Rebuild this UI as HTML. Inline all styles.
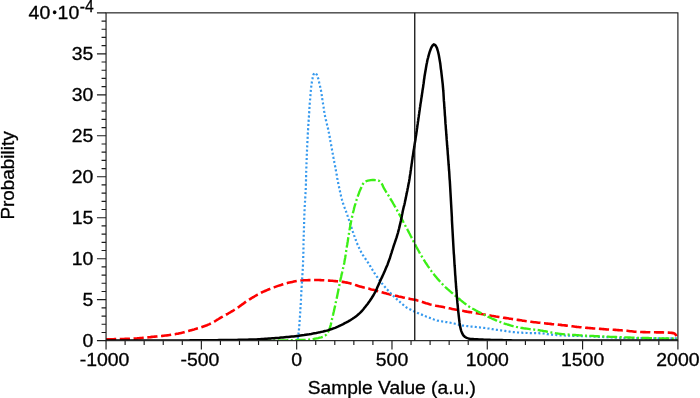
<!DOCTYPE html>
<html><head><meta charset="utf-8"><title>Probability vs Sample Value</title>
<style>html,body{margin:0;padding:0;background:#fff;overflow:hidden}body{width:700px;height:398px;position:relative}</style></head>
<body>
<svg width="700" height="398" viewBox="0 0 700 398" style="position:absolute;left:0;top:0">
<rect width="700" height="398" fill="#fff"/>
<clipPath id="pc"><rect x="106.05" y="12.85" width="571.85" height="327.34999999999997"/></clipPath>
<g fill="none" stroke-linejoin="round" clip-path="url(#pc)">
<path d="M106.0 339.2 L107.5 339.2 L109.0 339.2 L110.5 339.2 L111.9 339.2 L113.4 339.2 L114.9 339.1 L116.4 339.1 L117.9 339.1 L119.4 339.1 L120.8 339.0 L122.3 339.0 L123.8 339.0 L125.3 338.9 L126.8 338.9 L128.3 338.9 L129.7 338.8 L131.2 338.7 L132.7 338.7 L134.2 338.6 L135.7 338.5 L137.1 338.4 L138.6 338.2 L140.1 338.1 L141.6 338.0 L143.1 337.8 L144.5 337.7 L146.0 337.5 L147.5 337.4 L149.0 337.2 L150.4 337.1 L151.9 336.9 L153.4 336.8 L154.9 336.6 L156.3 336.5 L157.8 336.3 L159.3 336.2 L160.8 336.0 L162.3 335.9 L163.7 335.7 L165.2 335.5 L166.7 335.4 L168.2 335.2 L169.6 335.0 L171.1 334.8 L172.6 334.5 L174.0 334.3 L175.5 334.1 L176.9 333.8 L178.4 333.6 L179.8 333.2 L181.3 332.9 L182.7 332.6 L184.2 332.2 L185.6 331.8 L187.0 331.4 L188.5 331.0 L189.9 330.6 L191.3 330.2 L192.8 329.8 L194.2 329.4 L195.6 328.9 L197.0 328.5 L198.5 328.1 L199.9 327.6 L201.3 327.2 L202.7 326.7 L204.1 326.2 L205.5 325.7 L206.9 325.2 L208.3 324.6 L209.6 324.1 L210.9 323.4 L212.2 322.7 L213.5 322.0 L214.8 321.3 L216.1 320.5 L217.4 319.7 L218.6 319.0 L219.9 318.2 L221.2 317.4 L222.5 316.7 L223.8 315.9 L225.1 315.2 L226.4 314.5 L227.7 313.8 L229.0 313.0 L230.2 312.3 L231.5 311.5 L232.8 310.8 L234.1 310.0 L235.3 309.2 L236.6 308.4 L237.8 307.6 L239.0 306.8 L240.2 305.9 L241.4 305.0 L242.6 304.1 L243.8 303.3 L245.0 302.4 L246.2 301.5 L247.5 300.7 L248.7 299.9 L250.0 299.1 L251.2 298.3 L252.5 297.5 L253.8 296.8 L255.1 296.0 L256.3 295.3 L257.6 294.6 L259.0 293.9 L260.3 293.2 L261.6 292.5 L262.9 291.9 L264.3 291.3 L265.6 290.7 L267.0 290.1 L268.4 289.5 L269.7 289.0 L271.1 288.4 L272.5 287.9 L273.9 287.4 L275.3 286.9 L276.7 286.4 L278.1 285.9 L279.5 285.4 L280.9 285.0 L282.3 284.5 L283.8 284.0 L285.2 283.6 L286.6 283.2 L288.1 282.8 L289.5 282.5 L290.9 282.2 L292.4 281.9 L293.8 281.6 L295.3 281.3 L296.8 281.0 L298.2 280.8 L299.7 280.6 L301.2 280.5 L302.7 280.4 L304.1 280.3 L305.6 280.2 L307.1 280.2 L308.6 280.1 L310.1 280.1 L311.6 280.1 L313.0 280.0 L314.5 280.0 L316.0 280.0 L317.5 280.0 L319.0 280.0 L320.5 280.1 L321.9 280.2 L323.4 280.2 L324.9 280.3 L326.4 280.4 L327.9 280.5 L329.4 280.6 L330.8 280.7 L332.3 280.8 L333.8 281.0 L335.3 281.1 L336.8 281.2 L338.2 281.4 L339.7 281.6 L341.2 281.7 L342.7 281.9 L344.1 282.1 L345.6 282.4 L347.0 282.6 L348.5 282.9 L349.9 283.3 L351.3 283.7 L352.8 284.1 L354.2 284.6 L355.6 285.1 L357.0 285.5 L358.4 286.0 L359.8 286.4 L361.3 286.8 L362.7 287.2 L364.1 287.6 L365.6 287.9 L367.0 288.3 L368.5 288.6 L369.9 289.0 L371.3 289.4 L372.8 289.7 L374.2 290.1 L375.7 290.5 L377.1 290.9 L378.5 291.3 L379.9 291.7 L381.4 292.1 L382.8 292.5 L384.2 292.9 L385.7 293.3 L387.1 293.7 L388.5 294.0 L390.0 294.4 L391.4 294.8 L392.8 295.1 L394.3 295.5 L395.7 295.8 L397.2 296.1 L398.6 296.5 L400.1 296.8 L401.5 297.1 L403.0 297.4 L404.4 297.7 L405.9 298.1 L407.3 298.4 L408.8 298.6 L410.2 298.9 L411.7 299.2 L413.2 299.5 L414.6 299.8 L416.1 300.1 L417.5 300.5 L418.9 300.8 L420.3 301.3 L421.8 301.7 L423.2 302.2 L424.6 302.7 L426.0 303.2 L427.4 303.6 L428.8 304.0 L430.3 304.4 L431.7 304.7 L433.1 305.0 L434.6 305.3 L436.0 305.7 L437.5 306.0 L439.0 306.3 L440.4 306.5 L441.9 306.8 L443.3 307.1 L444.8 307.4 L446.2 307.7 L447.7 308.0 L449.1 308.3 L450.6 308.6 L452.0 308.9 L453.5 309.2 L455.0 309.5 L456.4 309.8 L457.9 310.0 L459.3 310.3 L460.8 310.6 L462.3 310.8 L463.7 311.1 L465.2 311.4 L466.6 311.6 L468.1 311.9 L469.6 312.1 L471.0 312.3 L472.5 312.6 L474.0 312.8 L475.4 313.1 L476.9 313.3 L478.3 313.5 L479.8 313.8 L481.3 314.0 L482.7 314.3 L484.2 314.5 L485.7 314.8 L487.1 315.0 L488.6 315.3 L490.1 315.5 L491.5 315.8 L493.0 316.0 L494.4 316.2 L495.9 316.5 L497.4 316.7 L498.8 317.0 L500.3 317.2 L501.8 317.4 L503.2 317.7 L504.7 317.9 L506.2 318.1 L507.6 318.3 L509.1 318.6 L510.6 318.8 L512.0 319.0 L513.5 319.2 L515.0 319.5 L516.4 319.7 L517.9 319.9 L519.4 320.1 L520.8 320.3 L522.3 320.6 L523.8 320.8 L525.2 321.0 L526.7 321.2 L528.2 321.4 L529.6 321.6 L531.1 321.8 L532.6 322.0 L534.1 322.2 L535.5 322.3 L537.0 322.5 L538.5 322.7 L540.0 322.8 L541.4 323.0 L542.9 323.2 L544.4 323.3 L545.9 323.5 L547.3 323.6 L548.8 323.8 L550.3 323.9 L551.8 324.1 L553.2 324.2 L554.7 324.3 L556.2 324.5 L557.7 324.6 L559.2 324.8 L560.6 324.9 L562.1 325.1 L563.6 325.2 L565.0 325.4 L566.5 325.6 L568.0 325.8 L569.5 325.9 L570.9 326.1 L572.4 326.3 L573.9 326.5 L575.4 326.7 L576.8 326.9 L578.3 327.0 L579.8 327.2 L581.3 327.3 L582.7 327.5 L584.2 327.6 L585.7 327.8 L587.2 327.9 L588.6 328.0 L590.1 328.1 L591.6 328.2 L593.1 328.4 L594.6 328.5 L596.0 328.6 L597.5 328.7 L599.0 328.8 L600.5 328.9 L602.0 329.0 L603.4 329.1 L604.9 329.2 L606.4 329.4 L607.9 329.5 L609.4 329.6 L610.8 329.7 L612.3 329.7 L613.8 329.8 L615.3 329.9 L616.8 330.0 L618.2 330.1 L619.7 330.2 L621.2 330.3 L622.7 330.5 L624.2 330.6 L625.6 330.7 L627.1 330.8 L628.6 331.0 L630.1 331.2 L631.5 331.3 L633.0 331.5 L634.5 331.7 L636.0 331.8 L637.5 331.9 L638.9 331.9 L640.4 332.0 L641.9 332.0 L643.4 332.1 L644.9 332.1 L646.3 332.2 L647.8 332.2 L649.3 332.2 L650.8 332.3 L652.3 332.3 L653.8 332.3 L655.3 332.3 L656.7 332.4 L658.2 332.4 L659.7 332.4 L661.2 332.4 L662.7 332.4 L664.2 332.5 L665.6 332.5 L667.1 332.5 L668.6 332.6 L670.1 332.7 L671.7 332.9 L673.1 333.1 L674.4 333.5 L675.5 334.5 L676.5 335.8 L677.2 337.0 L677.6 338.5" stroke="#fd0000" stroke-width="2.6" stroke-dasharray="10.2 3.6"/>
<path d="M297.0 340.6 L297.3 339.8 L297.6 338.9 L297.8 338.1 L298.0 337.2 L298.1 336.3 L298.3 335.4 L298.4 334.5 L298.5 333.7 L298.7 332.8 L298.8 331.9 L298.9 331.0 L298.9 330.1 L299.0 329.2 L299.1 328.3 L299.2 327.5 L299.3 326.6 L299.3 325.7 L299.4 324.8 L299.5 323.9 L299.5 323.0 L299.6 322.1 L299.6 321.2 L299.7 320.3 L299.8 319.4 L299.8 318.6 L299.9 317.7 L299.9 316.8 L300.0 315.9 L300.1 315.0 L300.1 314.1 L300.2 313.2 L300.2 312.3 L300.3 311.4 L300.3 310.5 L300.4 309.7 L300.4 308.8 L300.5 307.9 L300.6 307.0 L300.6 306.1 L300.7 305.2 L300.7 304.3 L300.8 303.4 L300.8 302.5 L300.9 301.6 L300.9 300.8 L301.0 299.9 L301.0 299.0 L301.0 298.1 L301.1 297.2 L301.1 296.3 L301.2 295.4 L301.2 294.5 L301.3 293.6 L301.3 292.7 L301.4 291.8 L301.4 291.0 L301.5 290.1 L301.5 289.2 L301.6 288.3 L301.6 287.4 L301.7 286.5 L301.7 285.6 L301.8 284.7 L301.8 283.8 L301.9 282.9 L302.0 282.1 L302.0 281.2 L302.1 280.3 L302.1 279.4 L302.2 278.5 L302.2 277.6 L302.3 276.7 L302.4 275.8 L302.4 274.9 L302.5 274.0 L302.5 273.2 L302.6 272.3 L302.6 271.4 L302.7 270.5 L302.7 269.6 L302.8 268.7 L302.8 267.8 L302.9 266.9 L302.9 266.0 L303.0 265.1 L303.0 264.3 L303.0 263.4 L303.1 262.5 L303.1 261.6 L303.1 260.7 L303.2 259.8 L303.2 258.9 L303.2 258.0 L303.2 257.1 L303.3 256.2 L303.3 255.3 L303.3 254.5 L303.3 253.6 L303.4 252.7 L303.4 251.8 L303.4 250.9 L303.4 250.0 L303.4 249.1 L303.5 248.2 L303.5 247.3 L303.5 246.4 L303.5 245.5 L303.5 244.6 L303.5 243.8 L303.6 242.9 L303.6 242.0 L303.6 241.1 L303.6 240.2 L303.6 239.3 L303.7 238.4 L303.7 237.5 L303.7 236.6 L303.7 235.7 L303.8 234.8 L303.8 234.0 L303.8 233.1 L303.8 232.2 L303.9 231.3 L303.9 230.4 L303.9 229.5 L303.9 228.6 L304.0 227.7 L304.0 226.8 L304.0 225.9 L304.0 225.0 L304.1 224.1 L304.1 223.3 L304.1 222.4 L304.1 221.5 L304.2 220.6 L304.2 219.7 L304.2 218.8 L304.3 217.9 L304.3 217.0 L304.3 216.1 L304.3 215.2 L304.4 214.3 L304.4 213.5 L304.4 212.6 L304.5 211.7 L304.5 210.8 L304.6 209.9 L304.6 209.0 L304.6 208.1 L304.7 207.2 L304.7 206.3 L304.8 205.4 L304.8 204.5 L304.9 203.7 L304.9 202.8 L305.0 201.9 L305.1 201.0 L305.1 200.1 L305.2 199.2 L305.2 198.3 L305.3 197.4 L305.3 196.5 L305.4 195.6 L305.4 194.8 L305.5 193.9 L305.5 193.0 L305.6 192.1 L305.6 191.2 L305.7 190.3 L305.7 189.4 L305.8 188.5 L305.8 187.6 L305.8 186.7 L305.9 185.9 L305.9 185.0 L305.9 184.1 L305.9 183.2 L306.0 182.3 L306.0 181.4 L306.0 180.5 L306.0 179.6 L306.0 178.7 L306.1 177.8 L306.1 176.9 L306.1 176.0 L306.1 175.2 L306.1 174.3 L306.2 173.4 L306.2 172.5 L306.2 171.6 L306.3 170.7 L306.3 169.8 L306.3 168.9 L306.3 168.0 L306.4 167.1 L306.4 166.2 L306.4 165.4 L306.5 164.5 L306.5 163.6 L306.5 162.7 L306.6 161.8 L306.6 160.9 L306.6 160.0 L306.7 159.1 L306.7 158.2 L306.7 157.3 L306.8 156.4 L306.8 155.6 L306.8 154.7 L306.9 153.8 L306.9 152.9 L306.9 152.0 L307.0 151.1 L307.0 150.2 L307.1 149.3 L307.1 148.4 L307.1 147.5 L307.2 146.6 L307.2 145.8 L307.3 144.9 L307.3 144.0 L307.3 143.1 L307.4 142.2 L307.4 141.3 L307.5 140.4 L307.5 139.5 L307.6 138.6 L307.6 137.7 L307.7 136.8 L307.7 136.0 L307.7 135.1 L307.8 134.2 L307.8 133.3 L307.9 132.4 L307.9 131.5 L308.0 130.6 L308.1 129.7 L308.1 128.8 L308.2 127.9 L308.2 127.1 L308.3 126.2 L308.3 125.3 L308.4 124.4 L308.5 123.5 L308.5 122.6 L308.6 121.7 L308.6 120.8 L308.7 119.9 L308.8 119.1 L308.8 118.2 L308.9 117.3 L308.9 116.4 L309.0 115.5 L309.1 114.6 L309.1 113.7 L309.2 112.8 L309.2 111.9 L309.3 111.0 L309.3 110.2 L309.4 109.3 L309.4 108.4 L309.5 107.5 L309.6 106.6 L309.6 105.7 L309.7 104.8 L309.7 103.9 L309.8 103.0 L309.9 102.1 L309.9 101.3 L310.0 100.4 L310.1 99.5 L310.2 98.6 L310.2 97.7 L310.3 96.8 L310.4 95.9 L310.5 95.0 L310.5 94.2 L310.6 93.3 L310.7 92.4 L310.8 91.5 L310.8 90.6 L310.9 89.7 L311.0 88.8 L311.1 87.9 L311.2 87.0 L311.3 86.2 L311.4 85.3 L311.5 84.4 L311.7 83.5 L311.8 82.6 L311.9 81.7 L312.1 80.9 L312.2 80.0 L312.4 79.1 L312.6 78.2 L312.7 77.3 L312.9 76.4 L313.2 75.6 L313.4 74.8 L313.9 73.9 L314.5 73.1 L315.2 72.8 L315.8 73.3 L316.4 74.1 L316.9 74.9 L317.2 75.7 L317.6 76.5 L317.8 77.4 L318.1 78.2 L318.4 79.1 L318.6 80.0 L318.8 80.8 L319.0 81.7 L319.2 82.6 L319.4 83.4 L319.6 84.3 L319.8 85.2 L320.0 86.0 L320.2 86.9 L320.4 87.8 L320.6 88.6 L320.8 89.5 L321.0 90.4 L321.1 91.3 L321.3 92.1 L321.4 93.0 L321.6 93.9 L321.7 94.8 L321.8 95.7 L321.9 96.6 L322.1 97.4 L322.2 98.3 L322.3 99.2 L322.5 100.1 L322.6 101.0 L322.7 101.8 L322.9 102.7 L323.0 103.6 L323.1 104.5 L323.3 105.4 L323.4 106.2 L323.6 107.1 L323.7 108.0 L323.8 108.9 L324.0 109.8 L324.1 110.7 L324.2 111.5 L324.4 112.4 L324.5 113.3 L324.7 114.2 L324.8 115.1 L325.0 115.9 L325.2 116.8 L325.4 117.7 L325.5 118.5 L325.7 119.4 L326.0 120.3 L326.2 121.1 L326.4 122.0 L326.6 122.9 L326.8 123.7 L327.0 124.6 L327.2 125.5 L327.4 126.3 L327.7 127.2 L327.9 128.1 L328.1 129.0 L328.2 129.8 L328.4 130.7 L328.6 131.6 L328.8 132.4 L329.0 133.3 L329.1 134.2 L329.3 135.1 L329.5 135.9 L329.6 136.8 L329.8 137.7 L330.0 138.6 L330.1 139.4 L330.3 140.3 L330.4 141.2 L330.6 142.1 L330.8 143.0 L330.9 143.8 L331.1 144.7 L331.2 145.6 L331.4 146.5 L331.6 147.3 L331.7 148.2 L331.9 149.1 L332.0 150.0 L332.2 150.8 L332.4 151.7 L332.5 152.6 L332.7 153.5 L332.9 154.4 L333.0 155.2 L333.2 156.1 L333.4 157.0 L333.5 157.9 L333.7 158.7 L333.9 159.6 L334.0 160.5 L334.2 161.4 L334.3 162.2 L334.5 163.1 L334.7 164.0 L334.8 164.9 L335.0 165.7 L335.2 166.6 L335.3 167.5 L335.5 168.4 L335.7 169.3 L335.8 170.1 L336.0 171.0 L336.1 171.9 L336.3 172.8 L336.5 173.6 L336.6 174.5 L336.8 175.4 L336.9 176.3 L337.1 177.2 L337.2 178.0 L337.4 178.9 L337.6 179.8 L337.7 180.7 L337.9 181.5 L338.1 182.4 L338.2 183.3 L338.4 184.2 L338.6 185.0 L338.8 185.9 L339.0 186.8 L339.1 187.6 L339.3 188.5 L339.5 189.4 L339.7 190.3 L339.9 191.1 L340.1 192.0 L340.3 192.9 L340.5 193.7 L340.7 194.6 L340.9 195.5 L341.1 196.4 L341.3 197.2 L341.6 198.1 L341.8 198.9 L342.0 199.8 L342.3 200.7 L342.5 201.5 L342.8 202.4 L343.0 203.2 L343.3 204.0 L343.6 204.9 L343.9 205.7 L344.2 206.6 L344.5 207.4 L344.8 208.2 L345.2 209.1 L345.5 209.9 L345.8 210.8 L346.1 211.6 L346.4 212.4 L346.7 213.3 L347.0 214.1 L347.3 214.9 L347.6 215.8 L347.9 216.6 L348.2 217.5 L348.4 218.3 L348.7 219.2 L349.0 220.0 L349.3 220.9 L349.6 221.7 L349.8 222.6 L350.1 223.4 L350.4 224.3 L350.7 225.1 L350.9 226.0 L351.2 226.8 L351.5 227.6 L351.8 228.5 L352.1 229.3 L352.4 230.2 L352.6 231.0 L352.9 231.9 L353.2 232.7 L353.5 233.6 L353.8 234.4 L354.1 235.3 L354.4 236.1 L354.7 236.9 L355.0 237.8 L355.3 238.6 L355.6 239.5 L355.9 240.3 L356.2 241.1 L356.5 242.0 L356.8 242.8 L357.2 243.6 L357.5 244.4 L357.9 245.2 L358.2 246.1 L358.6 246.9 L359.0 247.7 L359.4 248.5 L359.8 249.3 L360.2 250.1 L360.6 250.9 L361.0 251.7 L361.4 252.5 L361.8 253.2 L362.3 254.0 L362.7 254.8 L363.2 255.5 L363.7 256.3 L364.2 257.0 L364.7 257.8 L365.2 258.5 L365.7 259.2 L366.2 260.0 L366.7 260.7 L367.2 261.4 L367.7 262.2 L368.2 262.9 L368.7 263.7 L369.1 264.4 L369.6 265.2 L370.1 266.0 L370.6 266.7 L371.0 267.5 L371.5 268.2 L372.0 269.0 L372.4 269.8 L372.9 270.5 L373.4 271.3 L373.9 272.0 L374.3 272.8 L374.8 273.5 L375.3 274.3 L375.8 275.0 L376.3 275.8 L376.8 276.5 L377.3 277.2 L377.8 278.0 L378.3 278.7 L378.8 279.4 L379.4 280.1 L379.9 280.8 L380.4 281.5 L381.0 282.2 L381.5 282.9 L382.1 283.6 L382.7 284.3 L383.2 285.0 L383.8 285.7 L384.4 286.4 L385.0 287.0 L385.6 287.7 L386.2 288.4 L386.8 289.1 L387.4 289.7 L388.0 290.4 L388.6 291.0 L389.2 291.7 L389.8 292.3 L390.4 293.0 L391.0 293.6 L391.6 294.2 L392.3 294.9 L392.9 295.5 L393.6 296.1 L394.2 296.7 L394.9 297.3 L395.5 298.0 L396.2 298.6 L396.8 299.2 L397.5 299.8 L398.1 300.4 L398.8 300.9 L399.5 301.5 L400.1 302.1 L400.8 302.7 L401.5 303.3 L402.1 303.9 L402.8 304.5 L403.5 305.1 L404.2 305.7 L404.8 306.3 L405.6 306.8 L406.3 307.3 L407.0 307.8 L407.8 308.2 L408.6 308.6 L409.4 309.0 L410.2 309.4 L411.0 309.8 L411.8 310.2 L412.6 310.6 L413.4 311.0 L414.2 311.4 L415.0 311.8 L415.8 312.1 L416.6 312.5 L417.5 312.9 L418.3 313.2 L419.1 313.6 L419.9 313.9 L420.7 314.3 L421.6 314.6 L422.4 314.9 L423.2 315.3 L424.0 315.6 L424.9 315.9 L425.7 316.3 L426.5 316.6 L427.4 316.9 L428.2 317.2 L429.0 317.5 L429.9 317.9 L430.7 318.2 L431.5 318.5 L432.4 318.9 L433.2 319.2 L434.0 319.5 L434.9 319.8 L435.7 320.1 L436.6 320.3 L437.4 320.6 L438.3 320.7 L439.2 320.9 L440.0 321.1 L440.9 321.2 L441.8 321.3 L442.7 321.5 L443.6 321.6 L444.4 321.8 L445.3 321.9 L446.2 322.1 L447.1 322.2 L448.0 322.4 L448.8 322.5 L449.7 322.6 L450.6 322.8 L451.5 323.0 L452.4 323.1 L453.2 323.3 L454.1 323.5 L455.0 323.7 L455.8 323.9 L456.7 324.1 L457.6 324.4 L458.4 324.6 L459.3 324.9 L460.1 325.1 L461.0 325.3 L461.9 325.5 L462.8 325.6 L463.6 325.7 L464.5 325.8 L465.4 325.9 L466.3 326.0 L467.2 326.1 L468.1 326.2 L469.0 326.3 L469.8 326.4 L470.7 326.5 L471.6 326.6 L472.5 326.6 L473.4 326.7 L474.3 326.8 L475.2 326.9 L476.1 327.0 L476.9 327.1 L477.8 327.2 L478.7 327.3 L479.6 327.4 L480.5 327.5 L481.4 327.6 L482.3 327.7 L483.1 327.8 L484.0 327.9 L484.9 328.0 L485.8 328.1 L486.7 328.2 L487.6 328.4 L488.4 328.5 L489.3 328.6 L490.2 328.8 L491.1 328.9 L492.0 329.1 L492.8 329.2 L493.7 329.4 L494.6 329.5 L495.5 329.6 L496.4 329.8 L497.3 329.9 L498.1 330.0 L499.0 330.1 L499.9 330.2 L500.8 330.3 L501.7 330.5 L502.6 330.6 L503.4 330.7 L504.3 330.8 L505.2 330.9 L506.1 331.1 L507.0 331.2 L507.9 331.4 L508.7 331.5 L509.6 331.6 L510.5 331.8 L511.4 331.9 L512.3 332.0 L513.2 332.1 L514.0 332.2 L514.9 332.2 L515.8 332.3 L516.7 332.4 L517.6 332.5 L518.5 332.5 L519.4 332.6 L520.3 332.6 L521.2 332.7 L522.0 332.7 L522.9 332.8 L523.8 332.8 L524.7 332.9 L525.6 332.9 L526.5 333.0 L527.4 333.0 L528.3 333.1 L529.2 333.1 L530.1 333.1 L531.0 333.1 L531.8 333.2 L532.7 333.2 L533.6 333.2 L534.5 333.2 L535.4 333.2 L536.3 333.2 L537.2 333.2 L538.1 333.2 L539.0 333.2 L539.9 333.3 L540.8 333.3 L541.6 333.3 L542.5 333.4 L543.4 333.5 L544.3 333.6 L545.2 333.8 L546.1 333.9 L546.9 334.1 L547.8 334.2 L548.7 334.3 L549.6 334.5 L550.5 334.6 L551.4 334.7 L552.3 334.7 L553.1 334.8 L554.0 334.9 L554.9 335.0 L555.8 335.0 L556.7 335.1 L557.6 335.2 L558.5 335.2 L559.4 335.3 L560.3 335.3 L561.1 335.4 L562.0 335.4 L562.9 335.5 L563.8 335.5 L564.7 335.5 L565.6 335.6 L566.5 335.6 L567.4 335.6 L568.3 335.7 L569.2 335.7 L570.1 335.7 L570.9 335.7 L571.8 335.8 L572.7 335.8 L573.6 335.8 L574.5 335.8 L575.4 335.9 L576.3 335.9 L577.2 335.9 L578.1 335.9 L579.0 336.0 L579.9 336.0 L580.8 336.0 L581.6 336.1 L582.5 336.1 L583.4 336.1 L584.3 336.2 L585.2 336.2 L586.1 336.2 L587.0 336.3 L587.9 336.3 L588.8 336.4 L589.7 336.4 L590.6 336.4 L591.4 336.5 L592.3 336.5 L593.2 336.6 L594.1 336.6 L595.0 336.7 L595.9 336.7 L596.8 336.7 L597.7 336.8 L598.6 336.8 L599.5 336.9 L600.3 336.9 L601.2 337.0 L602.1 337.0 L603.0 337.0 L603.9 337.1 L604.8 337.1 L605.7 337.2 L606.6 337.2 L607.5 337.2 L608.4 337.3 L609.3 337.3 L610.1 337.4 L611.0 337.4 L611.9 337.5 L612.8 337.5 L613.7 337.6 L614.6 337.6 L615.5 337.7 L616.4 337.7 L617.3 337.7 L618.2 337.8 L619.1 337.8 L619.9 337.8 L620.8 337.9 L621.7 337.9 L622.6 337.9 L623.5 338.0 L624.4 338.0 L625.3 338.0 L626.2 338.0 L627.1 338.0 L628.0 338.0 L628.9 338.0 L629.7 338.1 L630.6 338.1 L631.5 338.1 L632.4 338.1 L633.3 338.1 L634.2 338.1 L635.1 338.1 L636.0 338.1 L636.9 338.1 L637.8 338.2 L638.7 338.2 L639.5 338.2 L640.4 338.2 L641.3 338.2 L642.2 338.2 L643.1 338.2 L644.0 338.2 L644.9 338.2 L645.8 338.2 L646.7 338.3 L647.6 338.3 L648.5 338.3 L649.4 338.3 L650.2 338.3 L651.1 338.3 L652.0 338.3 L652.9 338.3 L653.8 338.3 L654.7 338.3 L655.6 338.3 L656.5 338.3 L657.4 338.3 L658.3 338.3 L659.2 338.3 L660.1 338.4 L660.9 338.4 L661.8 338.4 L662.7 338.4 L663.6 338.4 L664.5 338.4 L665.4 338.4 L666.3 338.4 L667.2 338.4 L668.1 338.4 L669.0 338.4 L669.9 338.4 L670.8 338.4 L671.6 338.4 L672.5 338.4 L673.4 338.4 L674.3 338.4 L675.2 338.4 L676.1 338.4 L677.0 338.4" stroke="#3599ee" stroke-width="2.2" stroke-dasharray="2.05 2.22" stroke-dashoffset="2.44"/>
<path d="M262.0 340.6 L263.5 340.6 L265.0 340.6 L266.6 340.6 L268.1 340.5 L269.6 340.5 L271.1 340.5 L272.7 340.5 L274.2 340.5 L275.7 340.4 L277.2 340.4 L278.7 340.4 L280.3 340.4 L281.8 340.3 L283.3 340.3 L284.8 340.3 L286.4 340.3 L287.9 340.2 L289.4 340.2 L290.9 340.2 L292.4 340.2 L294.0 340.1 L295.5 340.1 L297.0 340.1 L298.5 340.0 L300.1 340.0 L301.6 340.0 L303.1 339.9 L304.6 339.9 L306.1 339.8 L307.7 339.7 L309.2 339.6 L310.7 339.4 L312.2 339.2 L313.7 339.0 L315.2 338.7 L316.7 338.4 L318.2 338.1 L319.7 337.7 L321.3 337.3 L322.8 336.8 L324.2 336.2 L325.3 335.5 L326.4 334.5 L327.3 333.3 L328.1 331.9 L328.8 330.5 L329.4 329.1 L329.9 327.7 L330.4 326.2 L330.8 324.8 L331.1 323.3 L331.5 321.8 L331.8 320.3 L332.1 318.8 L332.5 317.3 L332.8 315.8 L333.2 314.3 L333.5 312.8 L333.9 311.3 L334.2 309.8 L334.5 308.4 L334.9 306.9 L335.2 305.4 L335.5 303.9 L335.8 302.4 L336.1 300.9 L336.5 299.4 L336.8 297.9 L337.1 296.4 L337.4 295.0 L337.7 293.5 L338.0 292.0 L338.3 290.5 L338.6 289.0 L338.9 287.5 L339.2 286.0 L339.5 284.5 L339.8 283.0 L340.1 281.5 L340.4 280.0 L340.7 278.5 L341.1 277.1 L341.4 275.6 L341.7 274.1 L342.1 272.6 L342.4 271.1 L342.8 269.6 L343.1 268.1 L343.4 266.7 L343.8 265.2 L344.1 263.7 L344.4 262.2 L344.6 260.7 L344.9 259.2 L345.2 257.7 L345.4 256.2 L345.7 254.7 L345.9 253.2 L346.1 251.7 L346.3 250.2 L346.6 248.7 L346.8 247.2 L347.0 245.7 L347.3 244.2 L347.5 242.7 L347.8 241.2 L348.0 239.6 L348.2 238.1 L348.5 236.6 L348.7 235.1 L349.0 233.6 L349.2 232.1 L349.4 230.6 L349.7 229.1 L350.0 227.6 L350.2 226.1 L350.5 224.6 L350.8 223.1 L351.1 221.6 L351.4 220.1 L351.7 218.7 L352.0 217.2 L352.3 215.7 L352.7 214.2 L353.0 212.7 L353.4 211.2 L353.8 209.8 L354.1 208.3 L354.5 206.8 L354.9 205.3 L355.4 203.9 L355.8 202.4 L356.2 201.0 L356.7 199.5 L357.2 198.1 L357.7 196.6 L358.2 195.2 L358.7 193.8 L359.2 192.3 L359.8 190.9 L360.4 189.5 L361.0 188.1 L361.7 186.7 L362.3 185.3 L363.0 183.9 L363.9 182.6 L364.9 181.8 L366.4 181.1 L367.9 180.7 L369.4 180.4 L370.9 180.1 L372.4 180.0 L373.9 180.0 L375.5 180.1 L377.0 180.2 L378.4 180.5 L379.7 181.4 L380.8 182.6 L381.7 183.7 L382.5 185.0 L383.1 186.5 L383.8 187.9 L384.5 189.2 L385.3 190.5 L386.1 191.8 L386.9 193.1 L387.7 194.4 L388.6 195.7 L389.4 196.9 L390.1 198.3 L390.9 199.6 L391.7 200.9 L392.5 202.2 L393.2 203.5 L394.0 204.8 L394.7 206.1 L395.5 207.5 L396.2 208.8 L397.0 210.1 L397.7 211.5 L398.5 212.8 L399.2 214.1 L399.9 215.5 L400.7 216.8 L401.4 218.1 L402.1 219.5 L402.8 220.8 L403.5 222.2 L404.2 223.5 L404.9 224.9 L405.6 226.2 L406.3 227.6 L407.1 228.9 L407.8 230.3 L408.5 231.6 L409.2 233.0 L409.9 234.3 L410.6 235.7 L411.3 237.0 L412.0 238.4 L412.7 239.7 L413.4 241.1 L414.1 242.4 L414.8 243.8 L415.5 245.1 L416.2 246.5 L416.9 247.8 L417.6 249.2 L418.4 250.5 L419.1 251.8 L419.8 253.2 L420.6 254.5 L421.4 255.8 L422.2 257.1 L422.9 258.4 L423.7 259.7 L424.6 261.0 L425.4 262.3 L426.2 263.5 L427.1 264.8 L427.9 266.1 L428.8 267.4 L429.6 268.6 L430.5 269.8 L431.4 271.1 L432.3 272.3 L433.2 273.5 L434.2 274.7 L435.1 275.9 L436.1 277.0 L437.1 278.2 L438.1 279.4 L439.1 280.5 L440.1 281.6 L441.2 282.8 L442.2 283.9 L443.3 285.0 L444.3 286.0 L445.4 287.1 L446.5 288.1 L447.6 289.2 L448.8 290.2 L449.9 291.2 L451.1 292.2 L452.3 293.1 L453.4 294.1 L454.6 295.1 L455.8 296.1 L457.0 297.0 L458.1 298.0 L459.3 299.0 L460.5 300.0 L461.6 301.0 L462.8 301.9 L464.0 302.9 L465.2 303.8 L466.4 304.7 L467.7 305.6 L468.9 306.4 L470.2 307.2 L471.5 308.0 L472.8 308.8 L474.2 309.5 L475.5 310.3 L476.9 311.0 L478.2 311.7 L479.5 312.4 L480.9 313.1 L482.2 313.8 L483.6 314.5 L485.0 315.2 L486.3 315.9 L487.7 316.6 L489.1 317.2 L490.5 317.8 L491.8 318.5 L493.2 319.1 L494.6 319.7 L496.0 320.3 L497.4 320.9 L498.9 321.5 L500.3 322.0 L501.7 322.6 L503.1 323.1 L504.6 323.6 L506.0 324.0 L507.5 324.5 L508.9 324.9 L510.4 325.4 L511.9 325.8 L513.3 326.2 L514.8 326.5 L516.3 326.9 L517.8 327.2 L519.3 327.5 L520.8 327.8 L522.3 328.0 L523.8 328.3 L525.3 328.5 L526.8 328.7 L528.3 328.9 L529.8 329.1 L531.3 329.3 L532.8 329.4 L534.3 329.6 L535.9 329.8 L537.4 330.0 L538.9 330.2 L540.4 330.5 L541.9 330.7 L543.4 331.0 L544.9 331.2 L546.4 331.5 L547.9 331.8 L549.4 332.1 L550.9 332.4 L552.4 332.7 L553.9 332.9 L555.4 333.2 L556.9 333.4 L558.4 333.6 L559.9 333.8 L561.4 334.0 L562.9 334.1 L564.4 334.3 L565.9 334.4 L567.5 334.5 L569.0 334.6 L570.5 334.8 L572.0 334.9 L573.5 335.0 L575.1 335.0 L576.6 335.1 L578.1 335.2 L579.6 335.3 L581.1 335.4 L582.7 335.5 L584.2 335.6 L585.7 335.7 L587.2 335.7 L588.7 335.8 L590.3 335.9 L591.8 335.9 L593.3 336.0 L594.8 336.1 L596.3 336.2 L597.9 336.2 L599.4 336.3 L600.9 336.4 L602.4 336.4 L604.0 336.5 L605.5 336.6 L607.0 336.6 L608.5 336.7 L610.0 336.8 L611.6 336.8 L613.1 336.9 L614.6 337.0 L616.1 337.0 L617.6 337.1 L619.2 337.2 L620.7 337.2 L622.2 337.3 L623.7 337.3 L625.2 337.4 L626.8 337.4 L628.3 337.5 L629.8 337.5 L631.3 337.6 L632.9 337.6 L634.4 337.7 L635.9 337.7 L637.4 337.8 L638.9 337.8 L640.5 337.8 L642.0 337.9 L643.5 337.9 L645.0 338.0 L646.6 338.0 L648.1 338.0 L649.6 338.1 L651.1 338.1 L652.6 338.1 L654.2 338.2 L655.7 338.2 L657.2 338.2 L658.7 338.3 L660.3 338.3 L661.8 338.3 L663.3 338.4 L664.8 338.4 L666.3 338.4 L667.9 338.4 L669.4 338.5 L670.9 338.5 L672.4 338.5 L674.0 338.6 L675.5 338.6 L677.0 338.6" stroke="#3bef16" stroke-width="2.35" stroke-dasharray="10.4 2.5 2 2.5" stroke-dashoffset="1.5"/>
<path d="M100.0 340.6 L101.8 340.6 L103.6 340.6 L105.3 340.6 L107.1 340.6 L108.9 340.6 L110.7 340.6 L112.4 340.6 L114.2 340.6 L116.0 340.6 L117.8 340.6 L119.5 340.6 L121.3 340.6 L123.1 340.6 L124.9 340.6 L126.6 340.6 L128.4 340.6 L130.2 340.6 L132.0 340.6 L133.8 340.6 L135.5 340.6 L137.3 340.6 L139.1 340.5 L140.9 340.5 L142.6 340.5 L144.4 340.5 L146.2 340.5 L148.0 340.5 L149.7 340.5 L151.5 340.5 L153.3 340.5 L155.1 340.5 L156.8 340.5 L158.6 340.5 L160.4 340.5 L162.2 340.5 L163.9 340.5 L165.7 340.5 L167.5 340.5 L169.3 340.4 L171.1 340.4 L172.8 340.4 L174.6 340.4 L176.4 340.4 L178.2 340.4 L179.9 340.4 L181.7 340.4 L183.5 340.4 L185.3 340.4 L187.0 340.4 L188.8 340.4 L190.6 340.3 L192.4 340.3 L194.1 340.3 L195.9 340.3 L197.7 340.3 L199.5 340.3 L201.2 340.3 L203.0 340.3 L204.8 340.3 L206.6 340.3 L208.4 340.2 L210.1 340.2 L211.9 340.2 L213.7 340.2 L215.5 340.2 L217.2 340.2 L219.0 340.1 L220.8 340.1 L222.6 340.1 L224.3 340.1 L226.1 340.1 L227.9 340.0 L229.7 340.0 L231.5 340.0 L233.2 339.9 L235.0 339.9 L236.8 339.9 L238.6 339.8 L240.3 339.8 L242.1 339.8 L243.9 339.7 L245.7 339.7 L247.4 339.7 L249.2 339.6 L251.0 339.6 L252.8 339.5 L254.5 339.5 L256.3 339.4 L258.1 339.3 L259.9 339.2 L261.6 339.1 L263.4 339.0 L265.2 338.8 L266.9 338.7 L268.7 338.6 L270.5 338.5 L272.3 338.3 L274.0 338.2 L275.8 338.0 L277.6 337.9 L279.3 337.8 L281.1 337.6 L282.9 337.5 L284.7 337.3 L286.4 337.1 L288.2 337.0 L290.0 336.8 L291.7 336.6 L293.5 336.4 L295.3 336.2 L297.0 336.0 L298.8 335.8 L300.5 335.5 L302.3 335.3 L304.1 335.1 L305.8 334.8 L307.6 334.5 L309.3 334.3 L311.1 334.0 L312.8 333.6 L314.6 333.3 L316.3 333.0 L318.1 332.6 L319.8 332.3 L321.5 331.9 L323.3 331.5 L325.0 331.0 L326.7 330.6 L328.4 330.1 L330.1 329.5 L331.8 329.0 L333.5 328.4 L335.1 327.8 L336.8 327.1 L338.4 326.4 L340.0 325.6 L341.6 324.9 L343.2 324.1 L344.8 323.2 L346.4 322.4 L347.9 321.6 L349.5 320.7 L351.0 319.7 L352.5 318.8 L354.0 317.8 L355.5 316.7 L356.9 315.7 L358.2 314.5 L359.5 313.4 L360.8 312.1 L362.0 310.8 L363.2 309.5 L364.3 308.1 L365.4 306.7 L366.5 305.3 L367.6 303.9 L368.6 302.5 L369.7 301.0 L370.7 299.5 L371.7 298.0 L372.6 296.5 L373.6 295.0 L374.4 293.5 L375.3 291.9 L376.1 290.4 L376.8 288.7 L377.5 287.1 L378.2 285.5 L378.9 283.9 L379.7 282.2 L380.4 280.6 L381.1 279.0 L381.9 277.4 L382.6 275.7 L383.4 274.1 L384.1 272.5 L384.8 270.9 L385.5 269.3 L386.2 267.6 L386.9 266.0 L387.6 264.4 L388.2 262.7 L388.8 261.0 L389.4 259.3 L390.0 257.7 L390.5 256.0 L391.0 254.3 L391.6 252.6 L392.1 250.9 L392.7 249.2 L393.2 247.5 L393.7 245.8 L394.3 244.1 L394.9 242.4 L395.4 240.8 L396.0 239.1 L396.6 237.4 L397.1 235.7 L397.6 234.0 L398.1 232.3 L398.5 230.6 L399.0 228.8 L399.4 227.1 L399.8 225.4 L400.2 223.7 L400.6 221.9 L401.0 220.2 L401.3 218.5 L401.7 216.7 L402.0 215.0 L402.4 213.2 L402.7 211.5 L403.1 209.7 L403.5 208.0 L403.9 206.3 L404.4 204.6 L404.8 202.8 L405.1 201.1 L405.5 199.4 L405.9 197.6 L406.2 195.9 L406.6 194.1 L406.9 192.4 L407.3 190.7 L407.6 188.9 L408.0 187.2 L408.3 185.4 L408.6 183.7 L409.0 181.9 L409.3 180.2 L409.6 178.4 L409.8 176.7 L410.1 174.9 L410.4 173.2 L410.6 171.4 L410.9 169.7 L411.1 167.9 L411.4 166.1 L411.6 164.4 L411.9 162.6 L412.1 160.9 L412.4 159.1 L412.6 157.3 L412.9 155.6 L413.2 153.8 L413.4 152.1 L413.7 150.3 L414.0 148.6 L414.3 146.8 L414.5 145.1 L414.8 143.3 L415.1 141.5 L415.4 139.8 L415.6 138.0 L415.9 136.3 L416.2 134.5 L416.4 132.8 L416.7 131.0 L416.9 129.3 L417.2 127.5 L417.4 125.7 L417.7 124.0 L417.9 122.2 L418.2 120.5 L418.4 118.7 L418.7 116.9 L418.9 115.2 L419.2 113.4 L419.4 111.7 L419.7 109.9 L419.9 108.1 L420.2 106.4 L420.4 104.6 L420.7 102.9 L421.0 101.1 L421.2 99.4 L421.5 97.6 L421.8 95.8 L422.0 94.1 L422.3 92.3 L422.5 90.6 L422.8 88.8 L423.1 87.1 L423.3 85.3 L423.6 83.5 L423.8 81.8 L424.0 80.0 L424.3 78.3 L424.5 76.5 L424.8 74.7 L425.1 73.0 L425.4 71.2 L425.7 69.5 L426.0 67.7 L426.3 66.0 L426.6 64.2 L427.0 62.5 L427.3 60.8 L427.7 59.0 L428.2 57.3 L428.6 55.6 L429.1 53.9 L429.6 52.2 L430.2 50.5 L430.8 48.8 L431.5 47.2 L432.6 45.5 L433.8 44.3 L435.0 44.8 L436.2 46.5 L437.0 48.1 L437.5 49.8 L438.0 51.5 L438.4 53.3 L438.8 55.0 L439.1 56.8 L439.4 58.5 L439.7 60.3 L440.0 62.0 L440.3 63.8 L440.5 65.5 L440.7 67.3 L440.9 69.1 L441.2 70.8 L441.4 72.6 L441.6 74.3 L441.8 76.1 L442.0 77.9 L442.2 79.6 L442.4 81.4 L442.6 83.2 L442.8 84.9 L442.9 86.7 L443.1 88.5 L443.2 90.2 L443.4 92.0 L443.5 93.8 L443.6 95.6 L443.7 97.3 L443.8 99.1 L443.9 100.9 L444.1 102.7 L444.2 104.4 L444.3 106.2 L444.4 108.0 L444.6 109.7 L444.7 111.5 L444.8 113.3 L444.9 115.1 L445.1 116.8 L445.2 118.6 L445.3 120.4 L445.4 122.1 L445.5 123.9 L445.7 125.7 L445.8 127.5 L445.9 129.2 L446.1 131.0 L446.2 132.8 L446.3 134.5 L446.5 136.3 L446.6 138.1 L446.7 139.9 L446.9 141.6 L447.0 143.4 L447.1 145.2 L447.3 146.9 L447.4 148.7 L447.6 150.5 L447.7 152.3 L447.8 154.0 L448.0 155.8 L448.1 157.6 L448.2 159.3 L448.4 161.1 L448.5 162.9 L448.6 164.7 L448.8 166.4 L448.9 168.2 L449.0 170.0 L449.2 171.7 L449.3 173.5 L449.4 175.3 L449.5 177.1 L449.6 178.8 L449.8 180.6 L449.9 182.4 L450.0 184.1 L450.1 185.9 L450.2 187.7 L450.3 189.5 L450.4 191.2 L450.5 193.0 L450.6 194.8 L450.7 196.6 L450.8 198.3 L450.9 200.1 L451.0 201.9 L451.1 203.7 L451.2 205.4 L451.3 207.2 L451.4 209.0 L451.5 210.8 L451.6 212.5 L451.7 214.3 L451.8 216.1 L451.9 217.8 L451.9 219.6 L452.0 221.4 L452.1 223.2 L452.2 224.9 L452.3 226.7 L452.4 228.5 L452.5 230.3 L452.6 232.0 L452.7 233.8 L452.8 235.6 L452.9 237.4 L453.0 239.1 L453.1 240.9 L453.2 242.7 L453.3 244.5 L453.4 246.2 L453.5 248.0 L453.6 249.8 L453.7 251.5 L453.8 253.3 L454.0 255.1 L454.1 256.9 L454.2 258.6 L454.3 260.4 L454.4 262.2 L454.5 264.0 L454.6 265.7 L454.8 267.5 L454.9 269.3 L455.0 271.0 L455.1 272.8 L455.2 274.6 L455.4 276.4 L455.5 278.1 L455.6 279.9 L455.7 281.7 L455.9 283.4 L456.0 285.2 L456.1 287.0 L456.3 288.8 L456.4 290.5 L456.6 292.3 L456.7 294.1 L456.8 295.8 L457.0 297.6 L457.1 299.4 L457.3 301.2 L457.4 302.9 L457.6 304.7 L457.8 306.5 L457.9 308.2 L458.1 310.0 L458.3 311.8 L458.5 313.5 L458.7 315.3 L458.9 317.1 L459.1 318.9 L459.3 320.6 L459.5 322.4 L459.8 324.2 L460.0 325.9 L460.4 327.6 L460.8 329.4 L461.3 331.1 L462.0 332.9 L462.8 334.5 L463.7 335.8 L465.1 337.0 L466.7 337.9 L468.3 338.4 L470.0 338.7 L471.8 338.9 L473.6 339.1 L475.4 339.2 L477.2 339.3 L479.0 339.4 L480.7 339.5 L482.5 339.6 L484.3 339.7 L486.1 339.7 L487.8 339.8 L489.6 339.8 L491.4 339.9 L493.2 339.9 L494.9 340.0 L496.7 340.0 L498.5 340.0 L500.3 340.1 L502.0 340.1 L503.8 340.2 L505.6 340.2 L507.4 340.3 L509.1 340.3 L510.9 340.3 L512.7 340.4 L514.5 340.4 L516.3 340.4 L518.0 340.4 L519.8 340.5 L521.6 340.5 L523.4 340.5 L525.1 340.5 L526.9 340.5 L528.7 340.5 L530.5 340.5 L532.2 340.5 L534.0 340.5 L535.8 340.5 L537.6 340.5 L539.3 340.5 L541.1 340.5 L542.9 340.5 L544.7 340.5 L546.4 340.5 L548.2 340.5 L550.0 340.5 L551.8 340.5 L553.6 340.5 L555.3 340.5 L557.1 340.5 L558.9 340.5 L560.7 340.5 L562.4 340.5 L564.2 340.5 L566.0 340.6 L567.8 340.6 L569.5 340.6 L571.3 340.6 L573.1 340.6 L574.9 340.6 L576.6 340.6 L578.4 340.6 L580.2 340.6 L582.0 340.6 L583.7 340.6 L585.5 340.6 L587.3 340.6 L589.1 340.6 L590.9 340.6 L592.6 340.6 L594.4 340.6 L596.2 340.6 L598.0 340.6 L599.7 340.6 L601.5 340.6 L603.3 340.6 L605.1 340.6 L606.8 340.6 L608.6 340.6 L610.4 340.6 L612.2 340.6 L613.9 340.6 L615.7 340.6 L617.5 340.6 L619.3 340.6 L621.0 340.6 L622.8 340.6 L624.6 340.6 L626.4 340.6 L628.2 340.6 L629.9 340.6 L631.7 340.6 L633.5 340.6 L635.3 340.6 L637.0 340.6 L638.8 340.6 L640.6 340.6 L642.4 340.6 L644.1 340.6 L645.9 340.6 L647.7 340.6 L649.5 340.6 L651.2 340.6 L653.0 340.6 L654.8 340.6 L656.6 340.6 L658.4 340.6 L660.1 340.6 L661.9 340.6 L663.7 340.6 L665.5 340.6 L667.2 340.6 L669.0 340.6 L670.8 340.6 L672.6 340.6 L674.3 340.6 L676.1 340.6 L677.9 340.6 L679.7 340.6 L681.4 340.6 L683.2 340.6 L685.0 340.6" stroke="#000" stroke-width="2.5"/>
</g>
<line x1="414.75" x2="414.75" y1="12.85" y2="340.65" stroke="#111" stroke-width="1.3"/>
<rect x="106.05" y="12.85" width="571.85" height="327.79999999999995" fill="none" stroke="#1c1c1c" stroke-width="1.15"/>
<path d="M106.05 340.65 v8.9 M125.11 340.65 v4.3 M144.17 340.65 v4.3 M163.24 340.65 v4.3 M182.30 340.65 v4.3 M201.36 340.65 v8.9 M220.42 340.65 v4.3 M239.48 340.65 v4.3 M258.54 340.65 v4.3 M277.61 340.65 v4.3 M296.67 340.65 v8.9 M315.73 340.65 v4.3 M334.79 340.65 v4.3 M353.85 340.65 v4.3 M372.91 340.65 v4.3 M391.98 340.65 v8.9 M411.04 340.65 v4.3 M430.10 340.65 v4.3 M449.16 340.65 v4.3 M468.22 340.65 v4.3 M487.28 340.65 v8.9 M506.35 340.65 v4.3 M525.41 340.65 v4.3 M544.47 340.65 v4.3 M563.53 340.65 v4.3 M582.59 340.65 v8.9 M601.65 340.65 v4.3 M620.72 340.65 v4.3 M639.78 340.65 v4.3 M658.84 340.65 v4.3 M677.90 340.65 v8.9 M106.05 340.65 h-9.1 M106.05 332.45 h-4.5 M106.05 324.26 h-4.5 M106.05 316.06 h-4.5 M106.05 307.87 h-4.5 M106.05 299.67 h-9.1 M106.05 291.48 h-4.5 M106.05 283.28 h-4.5 M106.05 275.09 h-4.5 M106.05 266.89 h-4.5 M106.05 258.70 h-9.1 M106.05 250.50 h-4.5 M106.05 242.31 h-4.5 M106.05 234.12 h-4.5 M106.05 225.92 h-4.5 M106.05 217.72 h-9.1 M106.05 209.53 h-4.5 M106.05 201.34 h-4.5 M106.05 193.14 h-4.5 M106.05 184.94 h-4.5 M106.05 176.75 h-9.1 M106.05 168.56 h-4.5 M106.05 160.36 h-4.5 M106.05 152.17 h-4.5 M106.05 143.97 h-4.5 M106.05 135.78 h-9.1 M106.05 127.58 h-4.5 M106.05 119.38 h-4.5 M106.05 111.19 h-4.5 M106.05 103.00 h-4.5 M106.05 94.80 h-9.1 M106.05 86.61 h-4.5 M106.05 78.41 h-4.5 M106.05 70.22 h-4.5 M106.05 62.02 h-4.5 M106.05 53.83 h-9.1 M106.05 45.63 h-4.5 M106.05 37.44 h-4.5 M106.05 29.24 h-4.5 M106.05 21.05 h-4.5 M106.05 12.85 h-9.1" stroke="#1c1c1c" stroke-width="1.15" fill="none"/>
<g font-family="'Liberation Sans', Arial, Helvetica, sans-serif" font-size="17.5" fill="#000" stroke="#000" stroke-width="0.3">
<text transform="translate(104.5,366.0) scale(1.11,1)" text-anchor="middle">-1000</text>
<text transform="translate(199.9,366.0) scale(1.11,1)" text-anchor="middle">-500</text>
<text transform="translate(296.7,366.0) scale(1.11,1)" text-anchor="middle">0</text>
<text transform="translate(392.0,366.0) scale(1.11,1)" text-anchor="middle">500</text>
<text transform="translate(487.3,366.0) scale(1.11,1)" text-anchor="middle">1000</text>
<text transform="translate(582.6,366.0) scale(1.11,1)" text-anchor="middle">1500</text>
<text transform="translate(677.9,366.0) scale(1.11,1)" text-anchor="middle">2000</text>
<text transform="translate(93.3,346.8) scale(1.11,1)" text-anchor="end">0</text>
<text transform="translate(93.3,305.9) scale(1.11,1)" text-anchor="end">5</text>
<text transform="translate(93.3,264.9) scale(1.11,1)" text-anchor="end">10</text>
<text transform="translate(93.3,223.9) scale(1.11,1)" text-anchor="end">15</text>
<text transform="translate(93.3,182.9) scale(1.11,1)" text-anchor="end">20</text>
<text transform="translate(93.3,142.0) scale(1.11,1)" text-anchor="end">25</text>
<text transform="translate(93.3,101.0) scale(1.11,1)" text-anchor="end">30</text>
<text transform="translate(93.3,60.0) scale(1.11,1)" text-anchor="end">35</text>
<text transform="translate(28.6,19.0) scale(1.11,1)" text-anchor="start">40</text>
<text transform="translate(54.7,17.4) scale(1.0,1)" text-anchor="middle"><tspan font-size="12">•</tspan></text>
<text transform="translate(57.6,19.0) scale(1.11,1)" text-anchor="start">10</text>
<text transform="translate(79.8,11.7) scale(0.96,1)" text-anchor="start"><tspan font-size="16.3">-4</tspan></text>
<text transform="translate(391.8,394.1) scale(1.098,1)" text-anchor="middle">Sample Value (a.u.)</text>
<text transform="translate(14.3,175.5) rotate(-90) scale(1.08,1)" text-anchor="middle">Probability</text>
</g>
</svg>
</body></html>
